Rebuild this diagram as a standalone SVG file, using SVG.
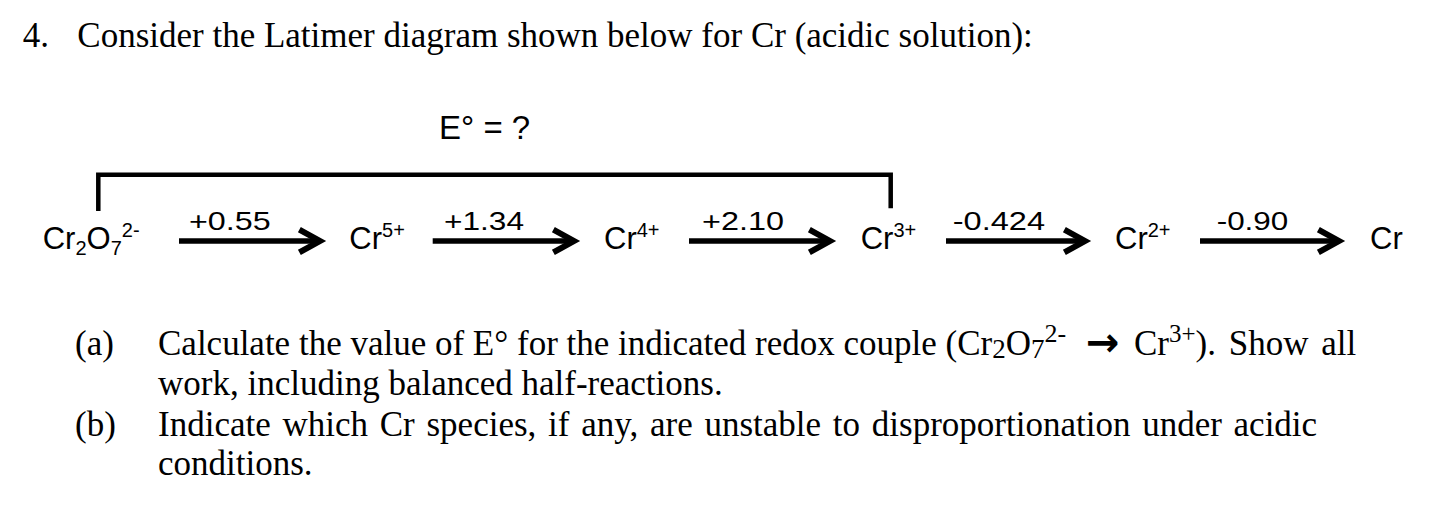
<svg xmlns="http://www.w3.org/2000/svg" width="1434" height="508" viewBox="0 0 1434 508">
<style>
.serif{font-family:"Liberation Serif","Times New Roman",serif;font-size:35px;fill:#000}
.sans{font-family:"Liberation Sans",Arial,sans-serif;fill:#000}
.sp{font-size:31px}
.lbl{font-size:25px}
.sm{font-size:20px}
.ln{stroke:#000;stroke-width:5.5;fill:none}
.hd{stroke:#000;stroke-width:6;fill:none;stroke-linecap:square;stroke-linejoin:miter}
.br{stroke:#000;stroke-width:4.5;fill:none;stroke-linejoin:miter}
</style>
<rect width="1434" height="508" fill="#fff"/>
<g id="title">
<text class="serif" x="22.7" y="46.7">4.</text>
<text class="serif" x="77.3" y="46.7">Consider the Latimer diagram shown below for Cr (acidic solution):</text>
</g>
<g id="eq">
<text class="sans" x="439" y="139" font-size="33">E° = ?</text>
</g>
<g id="n-cr2o7">
<text class="sans sp" x="42.7" y="249.3">Cr<tspan class="sm" dy="6">2</tspan><tspan dy="-6">O</tspan><tspan class="sm" dy="6">7</tspan><tspan class="sm" dy="-18">2-</tspan></text>
</g>
<g id="n-cr5">
<text class="sans sp" x="349.3" y="249.3">Cr<tspan class="sm" dy="-12">5+</tspan></text>
</g>
<g id="n-cr4">
<text class="sans sp" x="604" y="249.3">Cr<tspan class="sm" dy="-12">4+</tspan></text>
</g>
<g id="n-cr3">
<text class="sans sp" x="860.7" y="249.3">Cr<tspan class="sm" dy="-12">3+</tspan></text>
</g>
<g id="n-cr2">
<text class="sans sp" x="1115" y="249.3">Cr<tspan class="sm" dy="-12">2+</tspan></text>
</g>
<g id="n-cr">
<text class="sans sp" x="1370" y="249.3">Cr</text>
</g>
<g id="connectors">
<path class="br" d="M98.3,211 V174.7 H890.7 V208.3"/>
<g>
<line class="ln" x1="179" y1="241" x2="319" y2="241"/><path class="hd" d="M302,231 L320,241 L302,251"/>
<text class="sans lbl" x="189" y="230" textLength="81.7" lengthAdjust="spacingAndGlyphs">+0.55</text>
</g>
<g>
<line class="ln" x1="432.7" y1="241" x2="573" y2="241"/><path class="hd" d="M556,231 L574,241 L556,251"/>
<text class="sans lbl" x="444" y="230" textLength="80" lengthAdjust="spacingAndGlyphs">+1.34</text>
</g>
<g>
<line class="ln" x1="689" y1="241" x2="829" y2="241"/><path class="hd" d="M812,231 L830,241 L812,251"/>
<text class="sans lbl" x="702" y="230" textLength="82" lengthAdjust="spacingAndGlyphs">+2.10</text>
</g>
<g>
<line class="ln" x1="946" y1="241" x2="1084" y2="241"/><path class="hd" d="M1067,231 L1085,241 L1067,251"/>
<text class="sans lbl" x="952.7" y="230" textLength="92.3" lengthAdjust="spacingAndGlyphs">-0.424</text>
</g>
<g>
<line class="ln" x1="1200" y1="241" x2="1338" y2="241"/><path class="hd" d="M1321,231 L1339,241 L1321,251"/>
<text class="sans lbl" x="1216.7" y="230" textLength="71.6" lengthAdjust="spacingAndGlyphs">-0.90</text>
</g>
</g>
<g id="questions">
<text class="serif" x="75" y="355">(a)</text>
<text class="serif" x="158" y="355">Calculate the value of E° for the indicated redox couple (Cr<tspan font-size="27" dy="3">2</tspan><tspan dy="-3">O</tspan><tspan font-size="27" dy="3">7</tspan><tspan font-size="26" dy="-16">2-</tspan></text>
<text x="1086" y="356" font-family="DejaVu Sans,sans-serif" font-weight="bold" font-size="40">→</text>
<text class="serif" x="1134" y="355" word-spacing="4">Cr<tspan font-size="25" dy="-13">3+</tspan><tspan dy="13">). Show all</tspan></text>
<text class="serif" x="158" y="395">work, including balanced half-reactions.</text>
<text class="serif" x="75" y="436">(b)</text>
<text class="serif" x="158" y="436" word-spacing="3">Indicate which Cr species, if any, are unstable to disproportionation under acidic</text>
<text class="serif" x="158" y="475">conditions.</text>
</g>
</svg>
